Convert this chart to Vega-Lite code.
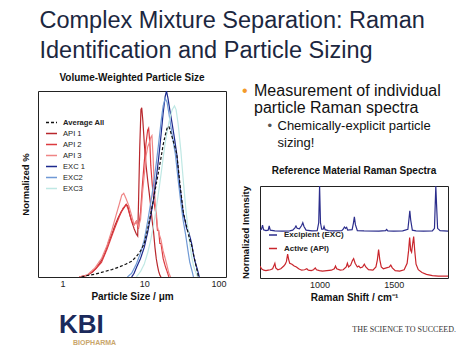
{
  "$schema": "https://vega.github.io/schema/vega-lite/v6.json",
  "background": "white",
  "padding": {"left": 19, "top": 9, "right": 5, "bottom": 5},
  "title": {
    "text": ["Complex Mixture Separation: Raman", "Identification and Particle Sizing"],
    "anchor": "start",
    "frame": "bounds",
    "fontSize": 23.5,
    "fontWeight": "normal",
    "color": "#1c2740",
    "lineHeight": 30,
    "offset": 10,
    "dx": 20
  },
  "spacing": 6,
  "resolve": {"scale": {"color": "independent", "strokeDash": "independent"}, "legend": {"color": "independent", "strokeDash": "independent"}},
  "vconcat": [
    {
      "spacing": 12,
      "resolve": {"scale": {"color": "independent", "strokeDash": "independent"}, "legend": {"color": "independent", "strokeDash": "independent"}},
      "hconcat": [
        {
          "width": 188,
          "height": 186,
          "title": {"text": "Volume-Weighted Particle Size", "fontSize": 10, "fontWeight": "bold", "color": "#111", "offset": 8},
          "data": {
            "values": [
              {"series": "API 1", "size": 1.6, "pct": 0}, {"series": "API 1", "size": 1.8, "pct": 0.005}, {"series": "API 1", "size": 2, "pct": 0.01}, {"series": "API 1", "size": 2.3, "pct": 0.025}, {"series": "API 1", "size": 2.6, "pct": 0.05}, {"series": "API 1", "size": 3, "pct": 0.09}, {"series": "API 1", "size": 3.3, "pct": 0.13}, {"series": "API 1", "size": 3.6, "pct": 0.18}, {"series": "API 1", "size": 4, "pct": 0.23}, {"series": "API 1", "size": 4.4, "pct": 0.28}, {"series": "API 1", "size": 4.8, "pct": 0.32}, {"series": "API 1", "size": 5.2, "pct": 0.35}, {"series": "API 1", "size": 5.6, "pct": 0.37}, {"series": "API 1", "size": 6, "pct": 0.39}, {"series": "API 1", "size": 6.3, "pct": 0.38}, {"series": "API 1", "size": 6.6, "pct": 0.34}, {"series": "API 1", "size": 7, "pct": 0.3}, {"series": "API 1", "size": 7.5, "pct": 0.26}, {"series": "API 1", "size": 8, "pct": 0.23}, {"series": "API 1", "size": 8.3, "pct": 0.22}, {"series": "API 1", "size": 8.5, "pct": 0.4}, {"series": "API 1", "size": 8.8, "pct": 0.7}, {"series": "API 1", "size": 9.1, "pct": 0.9}, {"series": "API 1", "size": 9.3, "pct": 0.91}, {"series": "API 1", "size": 9.6, "pct": 0.84}, {"series": "API 1", "size": 10, "pct": 0.72}, {"series": "API 1", "size": 10.5, "pct": 0.6}, {"series": "API 1", "size": 11, "pct": 0.52}, {"series": "API 1", "size": 11.5, "pct": 0.45}, {"series": "API 1", "size": 12, "pct": 0.38}, {"series": "API 1", "size": 12.5, "pct": 0.3}, {"series": "API 1", "size": 13, "pct": 0.24}, {"series": "API 1", "size": 13.5, "pct": 0.16}, {"series": "API 1", "size": 14, "pct": 0.1}, {"series": "API 1", "size": 14.5, "pct": 0.06}, {"series": "API 1", "size": 15, "pct": 0.03}, {"series": "API 1", "size": 15.5, "pct": 0.01}, {"series": "API 1", "size": 16, "pct": 0},
              {"series": "API 2", "size": 1.6, "pct": 0}, {"series": "API 2", "size": 2, "pct": 0.008}, {"series": "API 2", "size": 2.5, "pct": 0.04}, {"series": "API 2", "size": 3, "pct": 0.08}, {"series": "API 2", "size": 3.5, "pct": 0.15}, {"series": "API 2", "size": 4, "pct": 0.22}, {"series": "API 2", "size": 4.5, "pct": 0.28}, {"series": "API 2", "size": 5, "pct": 0.33}, {"series": "API 2", "size": 5.5, "pct": 0.37}, {"series": "API 2", "size": 6, "pct": 0.39}, {"series": "API 2", "size": 6.3, "pct": 0.37}, {"series": "API 2", "size": 6.7, "pct": 0.33}, {"series": "API 2", "size": 7, "pct": 0.3}, {"series": "API 2", "size": 7.5, "pct": 0.28}, {"series": "API 2", "size": 8, "pct": 0.3}, {"series": "API 2", "size": 8.5, "pct": 0.26}, {"series": "API 2", "size": 9, "pct": 0.35}, {"series": "API 2", "size": 9.5, "pct": 0.5}, {"series": "API 2", "size": 10, "pct": 0.62}, {"series": "API 2", "size": 10.5, "pct": 0.72}, {"series": "API 2", "size": 11, "pct": 0.79}, {"series": "API 2", "size": 11.3, "pct": 0.8}, {"series": "API 2", "size": 11.7, "pct": 0.72}, {"series": "API 2", "size": 12, "pct": 0.6}, {"series": "API 2", "size": 12.5, "pct": 0.5}, {"series": "API 2", "size": 13, "pct": 0.42}, {"series": "API 2", "size": 13.5, "pct": 0.37}, {"series": "API 2", "size": 14, "pct": 0.33}, {"series": "API 2", "size": 14.5, "pct": 0.25}, {"series": "API 2", "size": 15, "pct": 0.25}, {"series": "API 2", "size": 15.5, "pct": 0.18}, {"series": "API 2", "size": 16, "pct": 0.18}, {"series": "API 2", "size": 17, "pct": 0.1}, {"series": "API 2", "size": 18, "pct": 0.06}, {"series": "API 2", "size": 19, "pct": 0.03}, {"series": "API 2", "size": 20, "pct": 0},
              {"series": "API 3", "size": 1.6, "pct": 0}, {"series": "API 3", "size": 2, "pct": 0.01}, {"series": "API 3", "size": 2.5, "pct": 0.05}, {"series": "API 3", "size": 3, "pct": 0.1}, {"series": "API 3", "size": 3.5, "pct": 0.17}, {"series": "API 3", "size": 4, "pct": 0.25}, {"series": "API 3", "size": 4.5, "pct": 0.33}, {"series": "API 3", "size": 5, "pct": 0.4}, {"series": "API 3", "size": 5.3, "pct": 0.44}, {"series": "API 3", "size": 5.6, "pct": 0.45}, {"series": "API 3", "size": 6, "pct": 0.42}, {"series": "API 3", "size": 6.5, "pct": 0.38}, {"series": "API 3", "size": 7, "pct": 0.33}, {"series": "API 3", "size": 7.5, "pct": 0.28}, {"series": "API 3", "size": 8, "pct": 0.3}, {"series": "API 3", "size": 8.5, "pct": 0.27}, {"series": "API 3", "size": 9, "pct": 0.31}, {"series": "API 3", "size": 9.5, "pct": 0.45}, {"series": "API 3", "size": 10, "pct": 0.55}, {"series": "API 3", "size": 10.5, "pct": 0.65}, {"series": "API 3", "size": 11, "pct": 0.7}, {"series": "API 3", "size": 11.5, "pct": 0.72}, {"series": "API 3", "size": 12, "pct": 0.75}, {"series": "API 3", "size": 12.4, "pct": 0.76}, {"series": "API 3", "size": 12.8, "pct": 0.65}, {"series": "API 3", "size": 13.2, "pct": 0.5}, {"series": "API 3", "size": 13.6, "pct": 0.4}, {"series": "API 3", "size": 14, "pct": 0.35}, {"series": "API 3", "size": 14.5, "pct": 0.27}, {"series": "API 3", "size": 15, "pct": 0.24}, {"series": "API 3", "size": 16, "pct": 0.2}, {"series": "API 3", "size": 17, "pct": 0.14}, {"series": "API 3", "size": 18, "pct": 0.1}, {"series": "API 3", "size": 19, "pct": 0.06}, {"series": "API 3", "size": 20, "pct": 0.02}, {"series": "API 3", "size": 21, "pct": 0},
              {"series": "EXC 1", "size": 7, "pct": 0}, {"series": "EXC 1", "size": 7.5, "pct": 0.02}, {"series": "EXC 1", "size": 8, "pct": 0.05}, {"series": "EXC 1", "size": 9, "pct": 0.1}, {"series": "EXC 1", "size": 10, "pct": 0.16}, {"series": "EXC 1", "size": 11, "pct": 0.24}, {"series": "EXC 1", "size": 12, "pct": 0.33}, {"series": "EXC 1", "size": 13, "pct": 0.42}, {"series": "EXC 1", "size": 14, "pct": 0.53}, {"series": "EXC 1", "size": 15, "pct": 0.64}, {"series": "EXC 1", "size": 16, "pct": 0.76}, {"series": "EXC 1", "size": 17, "pct": 0.88}, {"series": "EXC 1", "size": 18, "pct": 0.97}, {"series": "EXC 1", "size": 18.7, "pct": 1.0}, {"series": "EXC 1", "size": 19.5, "pct": 0.96}, {"series": "EXC 1", "size": 20.5, "pct": 0.9}, {"series": "EXC 1", "size": 22, "pct": 0.82}, {"series": "EXC 1", "size": 23.5, "pct": 0.74}, {"series": "EXC 1", "size": 25, "pct": 0.66}, {"series": "EXC 1", "size": 27, "pct": 0.5}, {"series": "EXC 1", "size": 28.5, "pct": 0.42}, {"series": "EXC 1", "size": 30, "pct": 0.34}, {"series": "EXC 1", "size": 32, "pct": 0.29}, {"series": "EXC 1", "size": 33, "pct": 0.26}, {"series": "EXC 1", "size": 35, "pct": 0.24}, {"series": "EXC 1", "size": 36, "pct": 0.22}, {"series": "EXC 1", "size": 38, "pct": 0.18}, {"series": "EXC 1", "size": 40, "pct": 0.12}, {"series": "EXC 1", "size": 42, "pct": 0.08}, {"series": "EXC 1", "size": 44, "pct": 0.05}, {"series": "EXC 1", "size": 46, "pct": 0.02}, {"series": "EXC 1", "size": 47, "pct": 0},
              {"series": "EXC2", "size": 6.2, "pct": 0}, {"series": "EXC2", "size": 7, "pct": 0.02}, {"series": "EXC2", "size": 8, "pct": 0.07}, {"series": "EXC2", "size": 9, "pct": 0.13}, {"series": "EXC2", "size": 10, "pct": 0.2}, {"series": "EXC2", "size": 11, "pct": 0.3}, {"series": "EXC2", "size": 12, "pct": 0.4}, {"series": "EXC2", "size": 13, "pct": 0.5}, {"series": "EXC2", "size": 14, "pct": 0.61}, {"series": "EXC2", "size": 15, "pct": 0.72}, {"series": "EXC2", "size": 16, "pct": 0.83}, {"series": "EXC2", "size": 17, "pct": 0.92}, {"series": "EXC2", "size": 18, "pct": 0.96}, {"series": "EXC2", "size": 19, "pct": 0.94}, {"series": "EXC2", "size": 20, "pct": 0.88}, {"series": "EXC2", "size": 22, "pct": 0.76}, {"series": "EXC2", "size": 24, "pct": 0.66}, {"series": "EXC2", "size": 26, "pct": 0.52}, {"series": "EXC2", "size": 28, "pct": 0.4}, {"series": "EXC2", "size": 30, "pct": 0.3}, {"series": "EXC2", "size": 32, "pct": 0.23}, {"series": "EXC2", "size": 34, "pct": 0.15}, {"series": "EXC2", "size": 36, "pct": 0.08}, {"series": "EXC2", "size": 38, "pct": 0.04}, {"series": "EXC2", "size": 40, "pct": 0},
              {"series": "EXC3", "size": 8, "pct": 0}, {"series": "EXC3", "size": 9, "pct": 0.03}, {"series": "EXC3", "size": 10, "pct": 0.07}, {"series": "EXC3", "size": 11, "pct": 0.13}, {"series": "EXC3", "size": 12, "pct": 0.2}, {"series": "EXC3", "size": 13, "pct": 0.28}, {"series": "EXC3", "size": 14, "pct": 0.37}, {"series": "EXC3", "size": 15, "pct": 0.46}, {"series": "EXC3", "size": 16, "pct": 0.55}, {"series": "EXC3", "size": 17, "pct": 0.64}, {"series": "EXC3", "size": 18, "pct": 0.72}, {"series": "EXC3", "size": 19, "pct": 0.78}, {"series": "EXC3", "size": 20, "pct": 0.83}, {"series": "EXC3", "size": 21, "pct": 0.87}, {"series": "EXC3", "size": 22, "pct": 0.9}, {"series": "EXC3", "size": 23.4, "pct": 0.92}, {"series": "EXC3", "size": 24.5, "pct": 0.9}, {"series": "EXC3", "size": 26, "pct": 0.82}, {"series": "EXC3", "size": 28, "pct": 0.68}, {"series": "EXC3", "size": 30, "pct": 0.52}, {"series": "EXC3", "size": 32, "pct": 0.38}, {"series": "EXC3", "size": 34, "pct": 0.27}, {"series": "EXC3", "size": 36, "pct": 0.18}, {"series": "EXC3", "size": 38, "pct": 0.11}, {"series": "EXC3", "size": 40, "pct": 0.06}, {"series": "EXC3", "size": 43, "pct": 0.02}, {"series": "EXC3", "size": 45, "pct": 0},
              {"series": "Average All", "size": 1.7, "pct": 0}, {"series": "Average All", "size": 2, "pct": 0.008}, {"series": "Average All", "size": 2.5, "pct": 0.015}, {"series": "Average All", "size": 3, "pct": 0.025}, {"series": "Average All", "size": 4, "pct": 0.04}, {"series": "Average All", "size": 5, "pct": 0.055}, {"series": "Average All", "size": 6, "pct": 0.07}, {"series": "Average All", "size": 7, "pct": 0.085}, {"series": "Average All", "size": 8, "pct": 0.11}, {"series": "Average All", "size": 9, "pct": 0.14}, {"series": "Average All", "size": 10, "pct": 0.18}, {"series": "Average All", "size": 11, "pct": 0.26}, {"series": "Average All", "size": 12, "pct": 0.34}, {"series": "Average All", "size": 13, "pct": 0.42}, {"series": "Average All", "size": 14, "pct": 0.5}, {"series": "Average All", "size": 15, "pct": 0.57}, {"series": "Average All", "size": 16, "pct": 0.64}, {"series": "Average All", "size": 17, "pct": 0.71}, {"series": "Average All", "size": 18, "pct": 0.76}, {"series": "Average All", "size": 19, "pct": 0.8}, {"series": "Average All", "size": 20, "pct": 0.81}, {"series": "Average All", "size": 21, "pct": 0.78}, {"series": "Average All", "size": 23, "pct": 0.72}, {"series": "Average All", "size": 25, "pct": 0.66}, {"series": "Average All", "size": 27, "pct": 0.52}, {"series": "Average All", "size": 28.5, "pct": 0.43}, {"series": "Average All", "size": 30, "pct": 0.35}, {"series": "Average All", "size": 33, "pct": 0.27}, {"series": "Average All", "size": 36, "pct": 0.2}, {"series": "Average All", "size": 38, "pct": 0.17}, {"series": "Average All", "size": 41, "pct": 0.1}, {"series": "Average All", "size": 44, "pct": 0.04}, {"series": "Average All", "size": 46, "pct": 0}
            ]
          },
          "mark": {"type": "line", "strokeWidth": 1.2, "clip": true},
          "encoding": {
            "x": {
              "field": "size", "type": "quantitative",
              "scale": {"type": "log", "domain": [0.5, 100]},
              "axis": {"values": [1, 10, 100], "title": "Particle Size / μm", "grid": false, "domain": false, "ticks": false, "labelPadding": 2, "labelFontSize": 9, "titleFontSize": 10, "titleFontWeight": "bold", "titlePadding": 3, "labelColor": "#222", "titleColor": "#111"}
            },
            "y": {
              "field": "pct", "type": "quantitative",
              "scale": {"domain": [0, 1]},
              "axis": {"title": "Normalized %", "labels": false, "ticks": false, "grid": false, "domain": false, "titleFontSize": 9.5, "titleFontWeight": "bold", "titlePadding": 8, "titleColor": "#111"}
            },
            "color": {
              "field": "series", "type": "nominal",
              "scale": {"domain": ["Average All", "API 1", "API 2", "API 3", "EXC 1", "EXC2", "EXC3"], "range": ["#111111", "#b8272c", "#dc3a3f", "#ef8585", "#1c2a8e", "#6f99d5", "#bfe8e4"]},
              "legend": {"orient": "none", "legendX": 7, "legendY": 25, "title": null, "symbolType": "stroke", "symbolSize": 121, "symbolStrokeWidth": 1.5, "labelFontSize": 7.6, "labelOffset": 5, "rowPadding": 0, "padding": 0, "labelColor": "#222",
                "encode": {
                  "labels": {"update": {"fontWeight": {"signal": "datum.label === 'Average All' ? 'bold' : 'normal'"}}},
                  "symbols": {"update": {"strokeDash": {"signal": "datum.label === 'Average All' ? [2, 2] : [1, 0]"}}}
                }}
            },
            "strokeDash": {
              "field": "series", "type": "nominal",
              "scale": {"domain": ["Average All", "API 1", "API 2", "API 3", "EXC 1", "EXC2", "EXC3"], "range": [[3, 2], [1, 0], [1, 0], [1, 0], [1, 0], [1, 0], [1, 0]]},
              "legend": null
            }
          }
        },
        {
          "spacing": 6,
          "resolve": {"scale": {"color": "independent"}, "legend": {"color": "independent"}},
          "vconcat": [
            {
              "width": 188,
              "height": 68,
              "view": {"stroke": null},
              "data": {
                "values": [
                  {"line": 1, "indent": 0, "level": 1, "first": true, "text": "Measurement of individual"},
                  {"line": 2, "indent": 0, "level": 1, "first": false, "text": "particle Raman spectra"},
                  {"line": 3, "indent": 1, "level": 2, "first": true, "text": "Chemically-explicit particle"},
                  {"line": 4, "indent": 1, "level": 2, "first": false, "text": "sizing!"}
                ]
              },
              "encoding": {
                "x": {"field": "indent", "type": "quantitative", "scale": {"domain": [0, 8]}, "axis": null},
                "y": {"field": "line", "type": "quantitative", "scale": {"domain": [0, 4], "reverse": true}, "axis": null}
              },
              "layer": [
                {"transform": [{"filter": "datum.level === 1"}], "mark": {"type": "text", "align": "left", "baseline": "alphabetic", "fontSize": 16, "color": "#111", "dx": -6, "dy": -12}, "encoding": {"text": {"field": "text"}}},
                {"transform": [{"filter": "datum.level === 2"}], "mark": {"type": "text", "align": "left", "baseline": "alphabetic", "fontSize": 13, "color": "#111", "dx": -6, "dy": -12}, "encoding": {"text": {"field": "text"}}},
                {"transform": [{"filter": "datum.level === 1 && datum.first"}], "mark": {"type": "text", "align": "left", "baseline": "alphabetic", "fontSize": 16, "color": "#f39a2b", "dx": -18, "dy": -12, "text": "•"}},
                {"transform": [{"filter": "datum.level === 2 && datum.first"}], "mark": {"type": "text", "align": "left", "baseline": "alphabetic", "fontSize": 13, "color": "#555", "dx": -16, "dy": -12, "text": "•"}}
              ]
            },
            {
              "width": 188,
              "height": 92,
              "title": {"text": "Reference Material Raman Spectra", "fontSize": 10, "fontWeight": "bold", "color": "#111", "offset": 10},
              "data": {
                "values": [
                  {"series": "Excipient (EXC)", "shift": 600, "val": 0.52}, {"series": "Excipient (EXC)", "shift": 610, "val": 0.53}, {"series": "Excipient (EXC)", "shift": 617, "val": 0.575}, {"series": "Excipient (EXC)", "shift": 624, "val": 0.525}, {"series": "Excipient (EXC)", "shift": 640, "val": 0.515}, {"series": "Excipient (EXC)", "shift": 655, "val": 0.52}, {"series": "Excipient (EXC)", "shift": 662, "val": 0.565}, {"series": "Excipient (EXC)", "shift": 669, "val": 0.52}, {"series": "Excipient (EXC)", "shift": 700, "val": 0.512}, {"series": "Excipient (EXC)", "shift": 750, "val": 0.51}, {"series": "Excipient (EXC)", "shift": 800, "val": 0.512}, {"series": "Excipient (EXC)", "shift": 820, "val": 0.52}, {"series": "Excipient (EXC)", "shift": 835, "val": 0.545}, {"series": "Excipient (EXC)", "shift": 842, "val": 0.565}, {"series": "Excipient (EXC)", "shift": 850, "val": 0.54}, {"series": "Excipient (EXC)", "shift": 865, "val": 0.535}, {"series": "Excipient (EXC)", "shift": 880, "val": 0.57}, {"series": "Excipient (EXC)", "shift": 888, "val": 0.6}, {"series": "Excipient (EXC)", "shift": 896, "val": 0.56}, {"series": "Excipient (EXC)", "shift": 910, "val": 0.52}, {"series": "Excipient (EXC)", "shift": 950, "val": 0.512}, {"series": "Excipient (EXC)", "shift": 985, "val": 0.515}, {"series": "Excipient (EXC)", "shift": 995, "val": 0.6}, {"series": "Excipient (EXC)", "shift": 1001, "val": 1.0}, {"series": "Excipient (EXC)", "shift": 1007, "val": 0.6}, {"series": "Excipient (EXC)", "shift": 1015, "val": 0.53}, {"series": "Excipient (EXC)", "shift": 1025, "val": 0.53}, {"series": "Excipient (EXC)", "shift": 1031, "val": 0.56}, {"series": "Excipient (EXC)", "shift": 1038, "val": 0.525}, {"series": "Excipient (EXC)", "shift": 1060, "val": 0.515}, {"series": "Excipient (EXC)", "shift": 1100, "val": 0.512}, {"series": "Excipient (EXC)", "shift": 1150, "val": 0.515}, {"series": "Excipient (EXC)", "shift": 1160, "val": 0.53}, {"series": "Excipient (EXC)", "shift": 1168, "val": 0.555}, {"series": "Excipient (EXC)", "shift": 1176, "val": 0.54}, {"series": "Excipient (EXC)", "shift": 1183, "val": 0.55}, {"series": "Excipient (EXC)", "shift": 1190, "val": 0.52}, {"series": "Excipient (EXC)", "shift": 1220, "val": 0.525}, {"series": "Excipient (EXC)", "shift": 1229, "val": 0.6}, {"series": "Excipient (EXC)", "shift": 1235, "val": 0.665}, {"series": "Excipient (EXC)", "shift": 1242, "val": 0.58}, {"series": "Excipient (EXC)", "shift": 1255, "val": 0.515}, {"series": "Excipient (EXC)", "shift": 1300, "val": 0.512}, {"series": "Excipient (EXC)", "shift": 1400, "val": 0.51}, {"series": "Excipient (EXC)", "shift": 1445, "val": 0.515}, {"series": "Excipient (EXC)", "shift": 1452, "val": 0.527}, {"series": "Excipient (EXC)", "shift": 1460, "val": 0.512}, {"series": "Excipient (EXC)", "shift": 1500, "val": 0.51}, {"series": "Excipient (EXC)", "shift": 1560, "val": 0.512}, {"series": "Excipient (EXC)", "shift": 1595, "val": 0.53}, {"series": "Excipient (EXC)", "shift": 1603, "val": 0.65}, {"series": "Excipient (EXC)", "shift": 1608, "val": 0.73}, {"series": "Excipient (EXC)", "shift": 1614, "val": 0.63}, {"series": "Excipient (EXC)", "shift": 1625, "val": 0.52}, {"series": "Excipient (EXC)", "shift": 1650, "val": 0.512}, {"series": "Excipient (EXC)", "shift": 1700, "val": 0.51}, {"series": "Excipient (EXC)", "shift": 1760, "val": 0.512}, {"series": "Excipient (EXC)", "shift": 1774, "val": 0.54}, {"series": "Excipient (EXC)", "shift": 1779, "val": 0.8}, {"series": "Excipient (EXC)", "shift": 1783, "val": 1.0}, {"series": "Excipient (EXC)", "shift": 1788, "val": 0.8}, {"series": "Excipient (EXC)", "shift": 1795, "val": 0.54}, {"series": "Excipient (EXC)", "shift": 1812, "val": 0.515}, {"series": "Excipient (EXC)", "shift": 1865, "val": 0.51},
                  {"series": "Active (API)", "shift": 600, "val": 0.13}, {"series": "Active (API)", "shift": 610, "val": 0.1}, {"series": "Active (API)", "shift": 625, "val": 0.085}, {"series": "Active (API)", "shift": 640, "val": 0.08}, {"series": "Active (API)", "shift": 655, "val": 0.085}, {"series": "Active (API)", "shift": 670, "val": 0.09}, {"series": "Active (API)", "shift": 685, "val": 0.1}, {"series": "Active (API)", "shift": 695, "val": 0.14}, {"series": "Active (API)", "shift": 700, "val": 0.16}, {"series": "Active (API)", "shift": 706, "val": 0.11}, {"series": "Active (API)", "shift": 720, "val": 0.09}, {"series": "Active (API)", "shift": 740, "val": 0.1}, {"series": "Active (API)", "shift": 760, "val": 0.13}, {"series": "Active (API)", "shift": 770, "val": 0.15}, {"series": "Active (API)", "shift": 778, "val": 0.18}, {"series": "Active (API)", "shift": 786, "val": 0.26}, {"series": "Active (API)", "shift": 793, "val": 0.2}, {"series": "Active (API)", "shift": 800, "val": 0.16}, {"series": "Active (API)", "shift": 815, "val": 0.15}, {"series": "Active (API)", "shift": 830, "val": 0.13}, {"series": "Active (API)", "shift": 845, "val": 0.12}, {"series": "Active (API)", "shift": 860, "val": 0.1}, {"series": "Active (API)", "shift": 880, "val": 0.085}, {"series": "Active (API)", "shift": 900, "val": 0.09}, {"series": "Active (API)", "shift": 915, "val": 0.1}, {"series": "Active (API)", "shift": 925, "val": 0.085}, {"series": "Active (API)", "shift": 945, "val": 0.08}, {"series": "Active (API)", "shift": 960, "val": 0.09}, {"series": "Active (API)", "shift": 972, "val": 0.11}, {"series": "Active (API)", "shift": 980, "val": 0.09}, {"series": "Active (API)", "shift": 1000, "val": 0.08}, {"series": "Active (API)", "shift": 1020, "val": 0.075}, {"series": "Active (API)", "shift": 1050, "val": 0.08}, {"series": "Active (API)", "shift": 1080, "val": 0.085}, {"series": "Active (API)", "shift": 1100, "val": 0.1}, {"series": "Active (API)", "shift": 1108, "val": 0.13}, {"series": "Active (API)", "shift": 1116, "val": 0.1}, {"series": "Active (API)", "shift": 1140, "val": 0.085}, {"series": "Active (API)", "shift": 1160, "val": 0.09}, {"series": "Active (API)", "shift": 1180, "val": 0.12}, {"series": "Active (API)", "shift": 1188, "val": 0.16}, {"series": "Active (API)", "shift": 1196, "val": 0.12}, {"series": "Active (API)", "shift": 1210, "val": 0.14}, {"series": "Active (API)", "shift": 1222, "val": 0.19}, {"series": "Active (API)", "shift": 1230, "val": 0.21}, {"series": "Active (API)", "shift": 1240, "val": 0.16}, {"series": "Active (API)", "shift": 1255, "val": 0.12}, {"series": "Active (API)", "shift": 1265, "val": 0.13}, {"series": "Active (API)", "shift": 1275, "val": 0.11}, {"series": "Active (API)", "shift": 1290, "val": 0.12}, {"series": "Active (API)", "shift": 1302, "val": 0.15}, {"series": "Active (API)", "shift": 1312, "val": 0.12}, {"series": "Active (API)", "shift": 1330, "val": 0.09}, {"series": "Active (API)", "shift": 1360, "val": 0.085}, {"series": "Active (API)", "shift": 1380, "val": 0.12}, {"series": "Active (API)", "shift": 1390, "val": 0.2}, {"series": "Active (API)", "shift": 1398, "val": 0.31}, {"series": "Active (API)", "shift": 1406, "val": 0.2}, {"series": "Active (API)", "shift": 1416, "val": 0.12}, {"series": "Active (API)", "shift": 1430, "val": 0.1}, {"series": "Active (API)", "shift": 1450, "val": 0.11}, {"series": "Active (API)", "shift": 1470, "val": 0.12}, {"series": "Active (API)", "shift": 1480, "val": 0.14}, {"series": "Active (API)", "shift": 1490, "val": 0.11}, {"series": "Active (API)", "shift": 1510, "val": 0.08}, {"series": "Active (API)", "shift": 1540, "val": 0.075}, {"series": "Active (API)", "shift": 1570, "val": 0.09}, {"series": "Active (API)", "shift": 1590, "val": 0.16}, {"series": "Active (API)", "shift": 1600, "val": 0.3}, {"series": "Active (API)", "shift": 1607, "val": 0.44}, {"series": "Active (API)", "shift": 1614, "val": 0.3}, {"series": "Active (API)", "shift": 1620, "val": 0.28}, {"series": "Active (API)", "shift": 1628, "val": 0.38}, {"series": "Active (API)", "shift": 1634, "val": 0.45}, {"series": "Active (API)", "shift": 1641, "val": 0.3}, {"series": "Active (API)", "shift": 1650, "val": 0.15}, {"series": "Active (API)", "shift": 1665, "val": 0.09}, {"series": "Active (API)", "shift": 1690, "val": 0.06}, {"series": "Active (API)", "shift": 1720, "val": 0.04}, {"series": "Active (API)", "shift": 1760, "val": 0.025}, {"series": "Active (API)", "shift": 1800, "val": 0.02}, {"series": "Active (API)", "shift": 1865, "val": 0.02}
                ]
              },
              "mark": {"type": "line", "strokeWidth": 1.2, "clip": true},
              "encoding": {
                "x": {
                  "field": "shift", "type": "quantitative",
                  "scale": {"domain": [600, 1865], "nice": false, "zero": false},
                  "axis": {"values": [1000, 1500], "format": "d", "title": "Raman Shift / cm⁻¹", "grid": false, "domain": false, "ticks": false, "labelPadding": 2, "labelFontSize": 9, "titleFontSize": 10, "titleFontWeight": "bold", "titlePadding": 3, "labelColor": "#222", "titleColor": "#111"}
                },
                "y": {
                  "field": "val", "type": "quantitative",
                  "scale": {"domain": [0, 1]},
                  "axis": {"title": "Normalized Intensity", "labels": false, "ticks": false, "grid": false, "domain": false, "titleFontSize": 9.5, "titleFontWeight": "bold", "titlePadding": 10, "titleColor": "#111"}
                },
                "color": {
                  "field": "series", "type": "nominal",
                  "scale": {"domain": ["Excipient (EXC)", "Active (API)"], "range": ["#2b2d8c", "#c9252c"]},
                  "legend": {"orient": "none", "legendX": 8, "legendY": 44, "title": null, "symbolType": "stroke", "symbolSize": 64, "symbolStrokeWidth": 1.5, "labelFontSize": 8, "labelFontWeight": "bold", "labelOffset": 6, "rowPadding": 4.5, "padding": 0, "labelColor": "#222"}
                }
              }
            }
          ]
        }
      ]
    },
    {
      "width": 418,
      "height": 36,
      "view": {"stroke": null},
      "data": {
        "values": [
          {"slot": "left", "kind": "logo", "text": "KBI"},
          {"slot": "left", "kind": "sub", "text": "BIOPHARMA"},
          {"slot": "right", "kind": "tagline", "text": "THE SCIENCE TO SUCCEED."}
        ]
      },
      "encoding": {
        "x": {"field": "slot", "type": "nominal", "scale": {"type": "point", "domain": ["left", "right"], "padding": 0}, "axis": null}
      },
      "layer": [
        {"transform": [{"filter": "datum.kind === 'logo'"}], "mark": {"type": "text", "align": "left", "baseline": "alphabetic", "fontSize": 26, "fontWeight": "bold", "color": "#1b2a5c", "dx": 21, "dy": 6}, "encoding": {"text": {"field": "text"}}},
        {"transform": [{"filter": "datum.kind === 'sub'"}], "mark": {"type": "text", "align": "left", "baseline": "alphabetic", "fontSize": 7, "fontWeight": "bold", "color": "#c9a66b", "dx": 35, "dy": 18}, "encoding": {"text": {"field": "text"}}},
        {"transform": [{"filter": "datum.kind === 'tagline'"}], "mark": {"type": "text", "align": "right", "baseline": "alphabetic", "fontSize": 8, "font": "Liberation Serif", "color": "#333", "dy": 5}, "encoding": {"text": {"field": "text"}}}
      ]
    }
  ],
  "config": {
    "font": "Liberation Sans",
    "view": {"stroke": "#222", "strokeWidth": 1}
  }
}
